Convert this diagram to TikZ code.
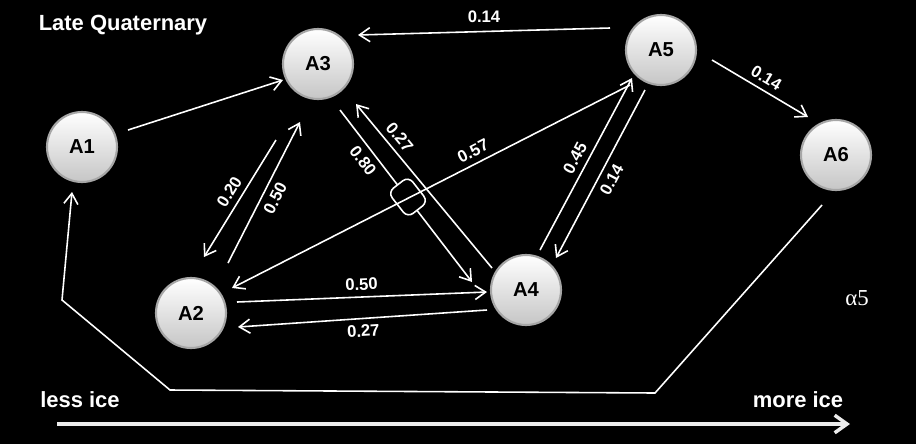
\documentclass[tikz,border=0pt]{standalone}
\usepackage{fontspec}
\setmainfont{Liberation Sans}
\newfontfamily\serf{Liberation Serif}
\usetikzlibrary{arrows.meta}
\begin{document}
\begin{tikzpicture}[x=0.02cm,y=-0.02cm,
 st/.style={circle,minimum size=1.4cm,inner sep=0pt,draw=gray!70,line width=1.2pt,top color=white,bottom color=gray!45,font=\bfseries\fontsize{11.5}{12}\selectfont},
 ar/.style={draw=white,line width=0.9pt,-{Straight Barb[length=6pt,width=8pt]}},
 lb/.style={text=white,font=\bfseries\fontsize{9.5}{10}\selectfont},
 tt/.style={text=white,font=\bfseries\fontsize{12.5}{13}\selectfont}]
\fill[black] (0,0) rectangle (916,444);
\node[st] (A1) at (82,147) {A1};
\node[st] (A3) at (318,64) {A3};
\node[st] (A5) at (661,50) {A5};
\node[st] (A6) at (836,155) {A6};
\node[st] (A2) at (191,313) {A2};
\node[st] (A4) at (526,290) {A4};
\node[tt] (t) at (123,25) {Late Quaternary};
\node[tt] (li) at (80,400) {less ice};
\node[tt] (mi) at (798,400) {more ice};
\node[text=white,font=\serf\fontsize{13}{13}\selectfont] (al) at (857,298) {α5};
\coordinate (b0) at (57,424); \coordinate (b1) at (850,424);
\draw[draw=white!85!gray,line width=2pt,-{Straight Barb[length=7pt,width=10pt]}] (b0) -- (b1);
% edges
\draw[ar] (128,130) -- (283,80);
\draw[ar] (610,28) -- node[lb,above=1pt] {0.14} (358,35);
\draw[ar] (712,60) -- node[lb,above,sloped] {0.14} (808,117);
\draw[ar] (276,140) -- node[lb,above,sloped] {0.20} (204,257);
\draw[ar] (228,263) -- node[lb,below,sloped] {0.50} (300,122);
\draw[ar] (340,110) -- node[lb,pos=0.25,below,sloped] {0.80} (472,282);
\draw[ar] (492,268) -- node[lb,pos=0.75,above,sloped] {0.27} (356,104);
% crossing bump
\draw[white,line width=0.9pt,fill=black,rotate around={-52:(408,197)},rounded corners=4pt] (392,184) rectangle (424,210);
\draw[ar] (630,85) -- node[lb,pos=0.38,above,sloped] {0.57} (232,288);
\draw[ar] (540,250) -- node[lb,above,sloped] {0.45} (632,78);
\draw[ar] (645,90) -- node[lb,below,sloped] {0.14} (556,258);
\draw[ar] (237,302) -- node[lb,above,sloped] {0.50} (487,292);
\draw[ar] (487,310) -- node[lb,below,sloped] {0.27} (238,327);
\coordinate (p0) at (822,205);
\draw[ar] (p0) -- (655,393) -- (170,390) -- (62,300) -- (72,192);
\end{tikzpicture}
\end{document}
